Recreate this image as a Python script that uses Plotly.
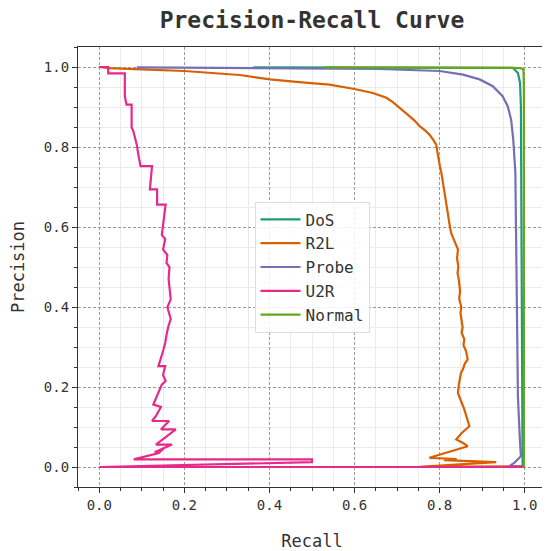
import plotly.graph_objects as go

# PR curve points (recall, precision)
dos_recall = [0.362, 0.53, 0.80, 0.95, 0.972, 0.984, 0.989, 0.991, 0.993, 0.994, 0.995, 1.0]
dos_precision = [0.999, 0.999, 0.999, 0.999, 0.998, 0.985, 0.96, 0.902, 0.57, 0.2, 0.0, 0.0]

r2l_recall = [0.0, 0.021, 0.10, 0.20, 0.33, 0.401, 0.47, 0.541, 0.60, 0.643, 0.675, 0.690, 0.706, 0.718,
              0.729, 0.741, 0.753, 0.765, 0.776, 0.785, 0.792, 0.795, 0.798, 0.801, 0.804, 0.808,
              0.811, 0.815, 0.819, 0.823, 0.827, 0.832, 0.836, 0.843, 0.841, 0.844, 0.842, 0.845,
              0.848, 0.846, 0.851, 0.849, 0.854, 0.852, 0.858, 0.856, 0.862, 0.866, 0.859, 0.855,
              0.850, 0.847, 0.845, 0.843, 0.848, 0.851, 0.855, 0.858, 0.862, 0.866, 0.870, 0.852,
              0.839, 0.855, 0.866, 0.776, 0.84, 0.81, 0.933, 0.753, 1.0]
r2l_precision = [1.0, 0.997, 0.994, 0.990, 0.980, 0.969, 0.962, 0.956, 0.945, 0.935, 0.923, 0.912, 0.898, 0.888,
                 0.877, 0.866, 0.852, 0.842, 0.831, 0.818, 0.806, 0.786, 0.765, 0.750, 0.736, 0.712,
                 0.686, 0.660, 0.636, 0.608, 0.585, 0.572, 0.56, 0.544, 0.522, 0.50, 0.485, 0.469,
                 0.44, 0.42, 0.40, 0.385, 0.35, 0.335, 0.319, 0.305, 0.290, 0.269, 0.258, 0.245,
                 0.235, 0.219, 0.205, 0.185, 0.172, 0.160, 0.150, 0.144, 0.130, 0.115, 0.102, 0.085,
                 0.069, 0.060, 0.052, 0.023, 0.020, 0.017, 0.012, 0.0005, 0.002]

probe_recall = [0.088, 0.33, 0.60, 0.659, 0.80, 0.847, 0.855, 0.894, 0.925, 0.948, 0.960, 0.968,
                0.973, 0.978, 0.980, 0.981, 0.984, 0.989, 0.991, 0.976, 0.964, 1.0]
probe_precision = [0.999, 0.997, 0.995, 0.995, 0.990, 0.983, 0.981, 0.969, 0.952, 0.927, 0.902, 0.869,
                   0.819, 0.736, 0.569, 0.344, 0.177, 0.060, 0.027, 0.011, 0.002, 0.001]

u2r_recall = [0.0, 0.021, 0.021, 0.060, 0.060, 0.064, 0.076, 0.076, 0.080, 0.088, 0.093, 0.097, 0.124,
              0.119, 0.136, 0.136, 0.156, 0.152, 0.147, 0.155, 0.150, 0.160, 0.158, 0.165, 0.163,
              0.168, 0.160, 0.168, 0.162, 0.158, 0.155, 0.150, 0.147, 0.142, 0.139, 0.155, 0.150,
              0.156, 0.147, 0.127, 0.145, 0.133, 0.124, 0.164, 0.145, 0.180, 0.133, 0.171, 0.130,
              0.150, 0.140, 0.081, 0.5, 0.5, 0.0, 1.0]
u2r_precision = [1.0, 1.0, 0.984, 0.984, 0.927, 0.906, 0.906, 0.849, 0.84, 0.806, 0.774, 0.752, 0.752,
                 0.694, 0.694, 0.656, 0.656, 0.62, 0.58, 0.57, 0.544, 0.53, 0.51, 0.50, 0.47,
                 0.419, 0.40, 0.37, 0.35, 0.33, 0.31, 0.29, 0.28, 0.265, 0.252, 0.252, 0.23,
                 0.215, 0.206, 0.156, 0.150, 0.127, 0.115, 0.115, 0.094, 0.094, 0.056, 0.056, 0.037,
                 0.045, 0.035, 0.019, 0.019, 0.012, 0.0, 0.0]

normal_recall = [0.53, 0.80, 0.95, 0.991, 0.997, 0.998, 0.998, 1.0]
normal_precision = [0.999, 0.999, 0.998, 0.997, 0.994, 0.95, 0.0, 0.0]

names = ["DoS", "R2L", "Probe", "U2R", "Normal"]
colors = ["#1b9e77", "#d95f02", "#7570b3", "#e7298a", "#66a61e"]
recalls = [dos_recall, r2l_recall, probe_recall, u2r_recall, normal_recall]
precisions = [dos_precision, r2l_precision, probe_precision, u2r_precision, normal_precision]

font_name = "DejaVu Sans Mono"
text_col = "#333333"

fig = go.Figure()
for i in range(len(names)):
    fig.add_trace(go.Scatter(x=recalls[i], y=precisions[i], mode="lines", name=names[i],
                             legendgroup=names[i],
                             line=dict(color=colors[i], width=2.2)))

axis_style = dict(
    range=[-0.05, 1.05], dtick=0.2, tickformat=".1f", automargin=False,
    showline=True, linecolor=text_col, linewidth=1.2, mirror=True,
    ticks="outside", ticklen=5, tickcolor=text_col, tickwidth=1,
    tickfont=dict(family=font_name, size=14, color=text_col),
    showgrid=True, gridcolor="#9a9a9a", griddash="3px,2px", gridwidth=1,
    zeroline=False,
    minor=dict(dtick=0.05, showgrid=True, gridcolor="#ebebeb", gridwidth=1, griddash="solid",
               ticks="outside", ticklen=3, tickcolor=text_col),
)

fig.update_xaxes(**axis_style, title=dict(text="Recall", standoff=23,
                                          font=dict(family=font_name, size=17, color=text_col)))
fig.update_yaxes(**axis_style, title=dict(text="Precision", standoff=22,
                                          font=dict(family=font_name, size=17, color=text_col)))

# the page body adds an 8px offset, so the figure is a bit smaller than the window
fig.update_layout(
    width=542, height=543,
    margin=dict(l=70, r=4, t=39, b=64),
    paper_bgcolor="white", plot_bgcolor="white",
    title=dict(text="<b>Precision-Recall Curve</b>", x=0.5, xref="paper", xanchor="center",
               y=1 - 12 / 543, yanchor="middle", automargin=False,
               font=dict(family=font_name, size=23, color=text_col)),
    legend=dict(x=0.5, y=0.5, xanchor="center", yanchor="middle",
                bgcolor="rgba(255,255,255,0.85)", bordercolor="#dddddd", borderwidth=1,
                font=dict(family=font_name, size=16, color=text_col),
                tracegroupgap=0, itemwidth=40),
    showlegend=True,
)

fig.write_html("out.html")
